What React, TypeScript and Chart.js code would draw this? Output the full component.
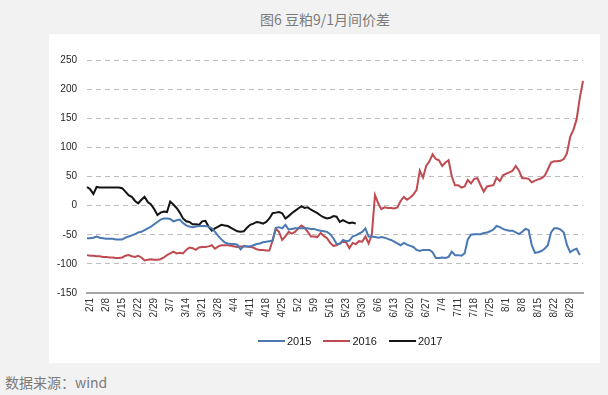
import React, { useEffect, useRef } from "react";
import { Chart, registerables } from "chart.js";

Chart.register(...registerables);

const title = "图6 豆粕9/1月间价差";
const source = "数据来源：wind";

// week tick labels (every 5th trading day, 2016 calendar)
const weekLabels = [
  "2/1","2/8","2/15","2/22","2/29","3/7","3/14","3/21","3/28","4/4","4/11","4/18","4/25",
  "5/2","5/9","5/16","5/23","5/30","6/6","6/13","6/20","6/27","7/4","7/11","7/18","7/25",
  "8/1","8/8","8/15","8/22","8/29",
];

const seriesNames = ["2015", "2016", "2017"];
const seriesColors = ["#4a78b2", "#bf4a50", "#141414"];

const s2015 = [
  -56,-56,-55,-53,-55,-56,-57,-57,-57,-58,
  -58,-58,-55,-53,-51,-49,-46,-45,-42,-39,
  -36,-32,-28,-24,-22,-22,-23,-27,-25,-24,
  -30,-34,-36,-37,-36,-35,-35,-35,-36,-39,
  -45,-52,-58,-63,-65,-66,-66,-67,-75,-69,
  -70,-70,-68,-66,-65,-63,-62,-61,-60,-38,
  -37,-39,-33,-41,-40,-39,-39,-39,-39,-39,
  -40,-40,-42,-43,-44,-45,-49,-56,-66,-66,
  -59,-61,-60,-53,-51,-48,-45,-39,-53,-53,
  -54,-55,-54,-55,-57,-59,-62,-65,-68,-64,
  -67,-69,-71,-76,-78,-76,-76,-76,-80,-90,
  -90,-89,-90,-88,-79,-85,-85,-86,-82,-58,
  -50,-49,-49,-49,-47,-46,-44,-41,-35,-37,
  -40,-42,-43,-43,-46,-49,-45,-40,-42,-68,
  -81,-80,-78,-74,-68,-46,-39,-39,-41,-46,
  -68,-80,-76,-74,-85,null,
];

const s2016 = [
  -85,-86,-86,-87,-87,-88,-88,-89,-89,-90,
  -90,-89,-86,-85,-87,-88,-86,-89,-94,-93,
  -92,-93,-93,-92,-89,-85,-82,-79,-82,-81,
  -82,-76,-72,-73,-76,-72,-71,-71,-70,-68,
  -74,-70,-68,-68,-68,-69,-70,-71,-70,-70,
  -70,-71,-72,-75,-76,-76,-77,-77,-60,-40,
  -45,-59,-53,-45,-48,-45,-39,-34,-38,-45,
  -53,-53,-54,-47,-52,-56,-64,-69,-68,-65,
  -62,-63,-73,-64,-66,-61,-62,-53,-65,-50,
  18,4,-6,-3,-4,-4,-5,-3,8,15,
  10,14,19,27,60,48,68,76,88,80,
  78,68,74,78,50,35,35,31,33,44,
  38,46,47,35,24,33,34,35,48,42,
  52,55,57,60,68,60,47,47,46,40,
  43,45,47,51,62,74,76,76,77,80,
  90,118,130,148,185,214,
];

const s2017 = [
  32,28,20,32,31,31,31,31,31,31,
  31,30,24,18,15,8,4,10,15,6,
  2,-6,-16,-12,-10,-11,7,2,-4,-12,
  -22,-27,-28,-32,-32,-33,-27,-26,-36,-43,
  -39,-36,-33,-34,-35,-38,-41,-44,-45,-44,
  -38,-33,-31,-28,-29,-31,-28,-22,-13,-12,
  -11,-13,-22,-18,-13,-9,-5,-1,-4,-3,
  -7,-10,-13,-17,-20,-22,-21,-18,-19,-28,
  -25,-28,-30,-29,-31,
];

// trading-day categories (weekdays), starting Fri 1/29
function buildCategories(n: number): string[] {
  const out: string[] = [];
  const d = new Date(2016, 0, 29);
  while (out.length < n) {
    const wd = d.getDay();
    if (wd !== 0 && wd !== 6) out.push(`${d.getMonth() + 1}/${d.getDate()}`);
    d.setDate(d.getDate() + 1);
  }
  return out;
}
const categories = buildCategories(s2016.length);

const pad = (arr: (number | null)[], n: number) =>
  arr.concat(new Array(Math.max(0, n - arr.length)).fill(null));

export default function App() {
  const ref = useRef<HTMLCanvasElement | null>(null);

  useEffect(() => {
    if (!ref.current) return;
    const n = categories.length;
    const values = [pad(s2015, n), pad(s2016, n), pad(s2017, n)];
    const chart = new Chart(ref.current, {
      type: "line",
      data: {
        labels: categories,
        datasets: seriesNames.map((name, k) => ({
          label: name,
          data: values[k],
          borderColor: seriesColors[k],
          backgroundColor: seriesColors[k],
          borderWidth: 2,
          pointRadius: 0,
          tension: 0,
          spanGaps: false,
        })),
      },
      options: {
        animation: false,
        responsive: false,
        devicePixelRatio: 1,
        layout: { padding: { left: 0, right: 13, top: 26, bottom: 0 } },
        plugins: { legend: { display: false }, tooltip: { enabled: false } },
        scales: {
          x: {
            type: "category",
            grid: { display: false, drawTicks: false },
            border: { display: true, color: "#a6a6a6", width: 2 },
            ticks: {
              autoSkip: false,
              maxRotation: 90,
              minRotation: 90,
              padding: 5,
              color: "#333333",
              font: { family: "'Liberation Sans', Arial, sans-serif", size: 10 },
              callback: (_v: any, i: number) => {
                const lab = categories[i];
                return weekLabels.includes(lab) && i % 5 === 1 ? lab : "";
              },
            },
            afterFit: (scale: any) => {
              scale.height = 70;
            },
          },
          y: {
            min: -150,
            max: 250,
            grid: { color: "#bdbdbd", drawTicks: false, lineWidth: 1 },
            border: { display: false, dash: [5, 4] },
            ticks: {
              stepSize: 50,
              padding: 10,
              color: "#262626",
              font: { family: "'Liberation Sans', Arial, sans-serif", size: 10 },
            },
            afterFit: (scale: any) => {
              scale.width = 38;
            },
          },
        },
      },
    });
    return () => chart.destroy();
  }, []);

  const cjk = "'Noto Sans CJK SC', 'Noto Sans', sans-serif";

  return (
    <div
      style={{
        position: "absolute",
        left: 0,
        top: 0,
        width: 608,
        height: 395,
        background: "#f2f2f2",
        overflow: "hidden",
      }}
    >
      <div
        style={{
          position: "absolute",
          left: 175,
          top: 9,
          width: 300,
          textAlign: "center",
          fontFamily: cjk,
          fontSize: 14,
          lineHeight: "20px",
          color: "#7a7a7a",
        }}
      >
        {title}
      </div>
      <div
        style={{
          position: "absolute",
          left: 49,
          top: 34,
          width: 551,
          height: 329,
          background: "#ffffff",
        }}
      >
        <canvas ref={ref} width={551} height={329} style={{ display: "block" }} />
      </div>
      <div
        style={{
          position: "absolute",
          left: 258,
          top: 333,
          height: 16,
          display: "flex",
          alignItems: "center",
          fontFamily: "'Liberation Sans', Arial, sans-serif",
          fontSize: 11,
          color: "#1a1a1a",
        }}
      >
        {seriesNames.map((name, k) => (
          <div key={name} style={{ display: "flex", alignItems: "center", marginRight: 12 }}>
            <div style={{ width: 27, height: 2, background: seriesColors[k], marginRight: 2 }} />
            <span>{name}</span>
          </div>
        ))}
      </div>
      <div
        style={{
          position: "absolute",
          left: 5,
          top: 372,
          fontFamily: cjk,
          fontSize: 14,
          lineHeight: "20px",
          color: "#7a7a7a",
        }}
      >
        {source}
      </div>
    </div>
  );
}
